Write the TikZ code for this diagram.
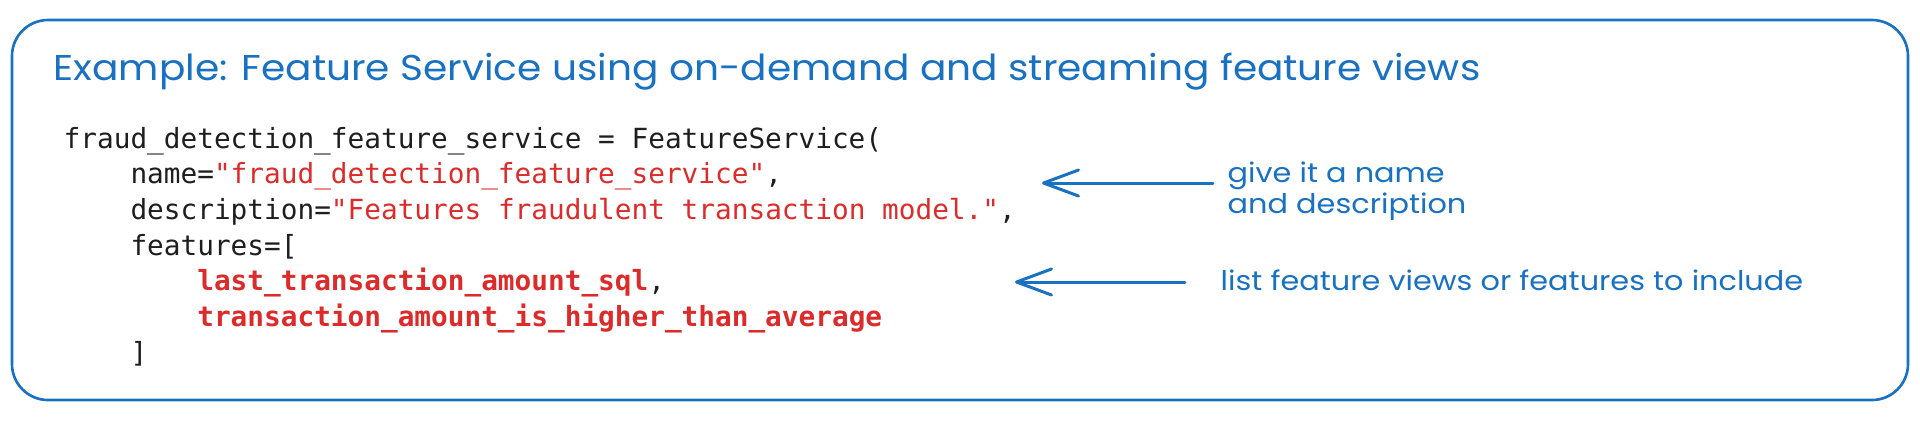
\documentclass[tikz,border=0pt]{standalone}
\usepackage{fontspec}
\setmonofont{DejaVu Sans Mono}
\newfontfamily\handfont{Poppins}
\newfontfamily\titlefont[FakeStretch=1.09]{Poppins}
\newfontfamily\notefont[FakeStretch=1.12]{Poppins}
\usetikzlibrary{arrows.meta, positioning}
\definecolor{sketchblue}{HTML}{1971C2}
\definecolor{codeblack}{HTML}{1E1E1E}
\definecolor{codered}{HTML}{DC2B2B}
\newcommand{\codestr}[1]{\textcolor{codered}{#1}}
\newcommand{\codeindent}{\hphantom{0000}}
\tikzstyle{frame} = [
  draw=sketchblue,
  line width=0.75pt,
  rounded corners=0.36cm
]
\tikzstyle{title} = [
  text=sketchblue,
  inner sep=0pt,
  anchor=base west,
  font=\titlefont\fontsize{10.2pt}{12pt}\selectfont
]
\tikzstyle{codeline} = [
  text=codeblack,
  inner sep=0pt,
  text height=6.6pt,
  text depth=3.16pt,
  anchor=north west,
  font=\ttfamily\fontsize{7.89pt}{9.76pt}\selectfont
]
\tikzstyle{note} = [
  text=sketchblue,
  inner sep=0pt,
  align=left,
  anchor=base west,
  font=\notefont\fontsize{7.7pt}{8.8pt}\selectfont
]
\tikzstyle{arrow} = [draw=sketchblue, line width=0.85pt, line cap=round, -{Straight Barb[round, length=0.35cm, width=0.26cm]}]

\begin{document}
\begin{tikzpicture}[x=0.01cm, y=-0.01cm, node distance=0pt]
    \useasboundingbox (0,0) rectangle (1920,423);
    \draw [frame] (12,20) rectangle (1908,400);

    \node (title) [title] at (53,80) {Example: Feature Service using on-demand and streaming feature views};

    \node (header) [codeline, anchor=west] at (63,142) {fraud\_detection\_feature\_service = FeatureService(};
    \node (name-line) [codeline, below=of header.south west, anchor=north west] {\codeindent name=\codestr{"fraud\_detection\_feature\_service"},};
    \node (description-line) [codeline, below=of name-line.south west, anchor=north west] {\codeindent description=\codestr{"Features fraudulent transaction model."},};
    \node (features-line) [codeline, below=of description-line.south west, anchor=north west] {\codeindent features=[};
    \node (last-amount-line) [codeline, below=of features-line.south west, anchor=north west] {\codeindent\codeindent\codestr{\bfseries last\_transaction\_amount\_sql},};
    \node (higher-average-line) [codeline, below=of last-amount-line.south west, anchor=north west] {\codeindent\codeindent\codestr{\bfseries transaction\_amount\_is\_higher\_than\_average}};
    \node (close-line) [codeline, below=of higher-average-line.south west, anchor=north west] {\codeindent]};

    % base of a two-line note is its last line
    \node (name-note) [note] at (1227,213) {give it a name\\and description};
    \node (list-note) [note] at (1220,290) {list feature views or features to include};
    \coordinate (name-tip) at (1042,183);
    \coordinate (list-tip) at (1015,282);

    \draw [arrow, shorten <=0.14cm] (name-note.west |- name-tip) -- (name-tip);
    \draw [arrow, shorten <=0.35cm] (list-note.west |- list-tip) -- (list-tip);
  \end{tikzpicture}
\end{document}
